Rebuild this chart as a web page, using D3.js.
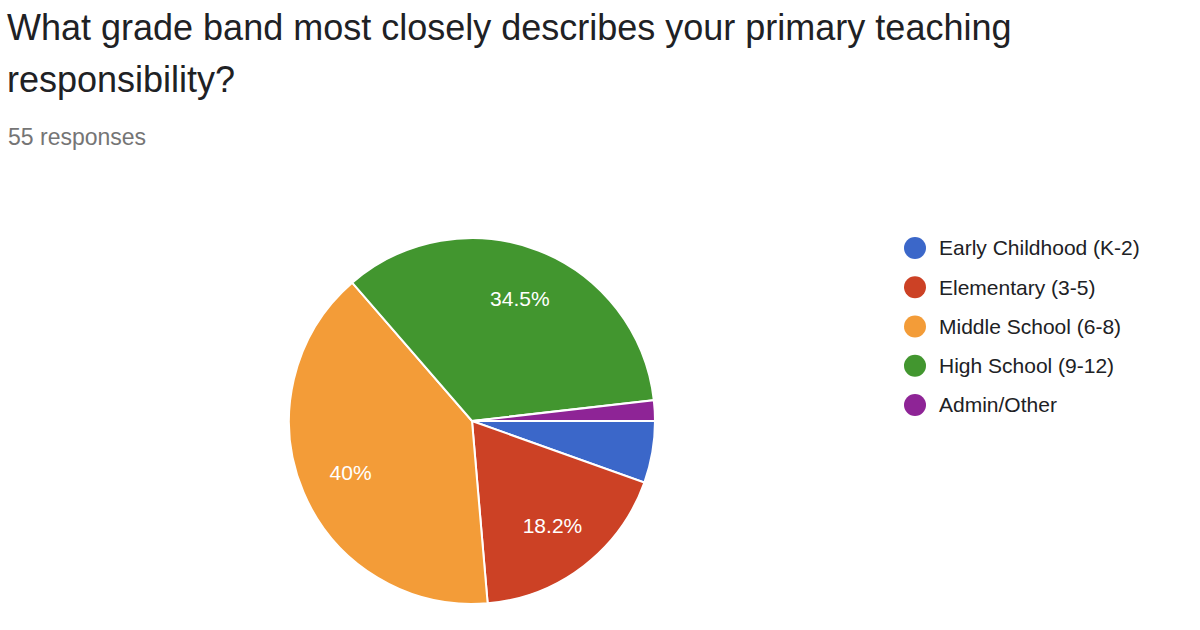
<!DOCTYPE html>
<html><head><meta charset="utf-8">
<script src="https://cdn.jsdelivr.net/npm/d3@7"></script>
<style>body{margin:0;background:#fff}text{font-family:"Liberation Sans",Arial,sans-serif}</style>
</head><body>
<svg id="chart" width="1200" height="630"></svg>
<script>
var categories = ["Early Childhood (K-2)", "Elementary (3-5)", "Middle School (6-8)", "High School (9-12)", "Admin/Other"];
var counts = [3, 10, 22, 19, 1];
var colors = ["#3b67c9", "#cc4125", "#f39c38", "#42962f", "#8e2496"];

var svg = d3.select("#chart");
svg.append("text").attr("x", 7).attr("y", 40).attr("font-size", 36).attr("fill", "#202124")
  .text("What grade band most closely describes your primary teaching");
svg.append("text").attr("x", 7).attr("y", 92).attr("font-size", 36).attr("fill", "#202124")
  .text("responsibility?");
svg.append("text").attr("x", 8).attr("y", 145).attr("font-size", 23).attr("fill", "#757575")
  .text("55 responses");

var total = d3.sum(counts);
var r = 183;
var g = svg.append("g").attr("transform", "translate(472,421)");
var pie = d3.pie().sort(null).startAngle(Math.PI / 2).endAngle(Math.PI / 2 + 2 * Math.PI);
var arcs = pie(counts);
var arc = d3.arc().innerRadius(0).outerRadius(r);
var labelArc = d3.arc().innerRadius(r * 0.72).outerRadius(r * 0.72);

g.selectAll("path").data(arcs).join("path")
  .attr("d", arc).attr("fill", (d, i) => colors[i])
  .attr("stroke", "#fff").attr("stroke-width", 2);

g.selectAll("text.lbl").data(arcs.filter(d => d.value / total > 0.1)).join("text")
  .attr("class", "lbl")
  .attr("transform", d => "translate(" + labelArc.centroid(d) + ")")
  .attr("text-anchor", "middle").attr("dy", "0.35em")
  .attr("font-size", 21).attr("fill", "#fff")
  .text(d => { var p = Math.round(d.value / total * 1000) / 10; return p + "%"; });

var y = d3.scalePoint().domain(categories).range([248, 405]);
var leg = svg.append("g").selectAll("g").data(categories).join("g")
  .attr("transform", d => "translate(915," + y(d) + ")");
leg.append("circle").attr("r", 11).attr("fill", (d, i) => colors[i]);
leg.append("text").attr("x", 24).attr("dy", "0.35em").attr("font-size", 21)
  .attr("fill", "#202124").text(d => d);
</script>
</body></html>
